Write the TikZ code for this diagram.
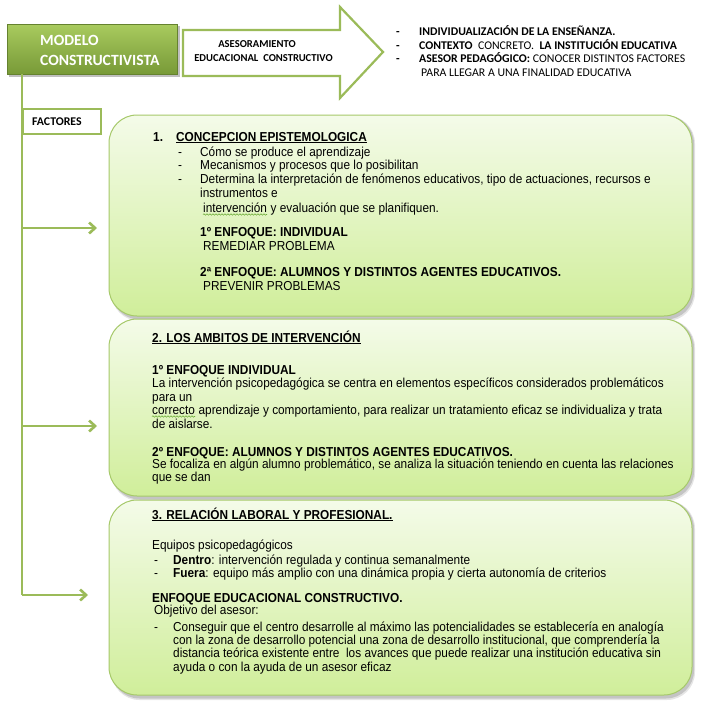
\documentclass[tikz,border=0pt]{standalone}
\usepackage{fontspec}
\setmainfont{Liberation Sans}[FakeStretch=0.91]
\newfontfamily\calibrifont{Carlito}
\usetikzlibrary{arrows.meta,decorations.pathmorphing,backgrounds}
\definecolor{olivegreen}{HTML}{9BBB59}
\definecolor{boxborder}{HTML}{A6C96A}
\definecolor{boxtop}{HTML}{F4FBE9}
\definecolor{boxbottom}{HTML}{D0EE9A}
\definecolor{modeltop}{HTML}{A9CB5E}
\definecolor{modelbottom}{HTML}{779937}
\definecolor{spell}{HTML}{6FAE3A}
\begin{document}
\begin{tikzpicture}[x=1pt,y=-1pt,
  txt/.style={anchor=base west,inner sep=0pt,font=\fontsize{13}{15}\selectfont},
  btxt/.style={txt,font=\bfseries\fontsize{13}{15}\selectfont},
  hdr/.style={anchor=base west,inner sep=0pt,font=\calibrifont\bfseries\fontsize{11.8}{13}\selectfont},
  conn/.style={draw=olivegreen,line width=2.6pt},
  connarrow/.style={conn,-{Straight Barb[length=6pt,width=11pt,line width=2.6pt]}},
  wavy/.style={draw=spell,line width=0.6pt,decorate,decoration={snake,amplitude=0.7pt,segment length=3pt}},
  bigbox/.style={rectangle,rounded corners=28pt,draw=boxborder,line width=1pt,
    top color=boxtop,bottom color=boxbottom,minimum width=583pt},
  shadowbox/.style={fill=black,rounded corners=28pt},
]
\useasboundingbox (0,0) rectangle (720,707);

% main box
\node[rectangle,draw=modelbottom!85!black,line width=0.6pt,top color=modeltop,bottom color=modelbottom,
  minimum width=170pt,minimum height=50pt] (modelo) at (92,49.5) {};
\node[anchor=base west,inner sep=0pt,text=white,font=\calibrifont\bfseries\fontsize{15.6}{17}\selectfont] (m1) at (40,45.5) {MODELO};
\node[anchor=base west,inner sep=0pt,text=white,font=\calibrifont\bfseries\fontsize{15.6}{17}\selectfont] (m2) at (40,65.5) {CONSTRUCTIVISTA};

% big arrow
\draw[draw=olivegreen,line width=2.2pt,fill=white,line join=miter]
  (183,30) -- (340,30) -- (340,7) -- (383,52) -- (340,98) -- (340,76) -- (183,76) -- cycle;
\node[anchor=base,inner sep=0pt,font=\calibrifont\bfseries\fontsize{10.6}{12}\selectfont] (a1) at (257,47.5) {ASESORAMIENTO};
\node[anchor=base,inner sep=0pt,font=\calibrifont\bfseries\fontsize{10.6}{12}\selectfont] (a2) at (263.5,61.5) {EDUCACIONAL\ \ CONSTRUCTIVO};

% top list
\node[hdr] (d1) at (396,35.5) {-};
\node[hdr] (t1) at (419,35.5) {INDIVIDUALIZACIÓN DE LA ENSEÑANZA.};
\node[hdr] (d2) at (396,49) {-};
\node[hdr] (t2) at (419,49) {CONTEXTO\ \ {\mdseries CONCRETO.}\ \ LA INSTITUCIÓN EDUCATIVA};
\node[hdr] (d3) at (396,62.5) {-};
\node[hdr] (t3) at (419,62.5) {ASESOR PEDAGÓGICO: {\mdseries CONOCER DISTINTOS FACTORES}};
\node[hdr,font=\calibrifont\fontsize{11.8}{13}\selectfont] (t4) at (421,76) {PARA LLEGAR A UNA FINALIDAD EDUCATIVA};

% connectors
\coordinate (top) at (22,74);
\coordinate (r1) at (22,228);
\coordinate (r2) at (22,426);
\coordinate (r3) at (22,595);
\coordinate (e1) at (97,228);
\coordinate (e2) at (97,426);
\coordinate (e3) at (88,595);
\draw[conn,line cap=butt] (top) -- (r3);
\draw[connarrow] (r1) -- (e1);
\draw[connarrow] (r2) -- (e2);
\draw[connarrow] (r3) -- (e3);

% factores
\node[rectangle,draw=olivegreen,line width=2pt,fill=white,minimum width=78pt,minimum height=25pt,anchor=north west] (factores) at (22,108) {};
\node[anchor=base west,inner sep=0pt,font=\calibrifont\bfseries\fontsize{11.8}{13}\selectfont] (ft) at (32,125) {FACTORES};

% big boxes
\node[bigbox,minimum height=201pt] (box1) at (400.5,215.5) {};
\node[bigbox,minimum height=177pt] (box2) at (400.5,407.5) {};
\node[bigbox,minimum height=195pt] (box3) at (400.5,597.5) {};

\begin{scope}[on background layer]
  \fill[white] (0,0) rectangle (720,707);
  \foreach \b in {box1,box2,box3}{
    \fill[shadowbox,opacity=0.10] ([xshift=3pt,yshift=-4.5pt]\b.south west) rectangle ([xshift=2.5pt,yshift=-1pt]\b.north east);
    \fill[shadowbox,opacity=0.14] ([xshift=3pt,yshift=-3pt]\b.south west) rectangle ([xshift=1.5pt,yshift=-1pt]\b.north east);
  }
  \fill[black,opacity=0.25] ([xshift=2pt,yshift=-2.5pt]modelo.south west) rectangle ([xshift=2.5pt,yshift=-2pt]modelo.north east);
\end{scope}

% box 1 text
\node[btxt] (b1n) at (153,141) {1.};
\node[btxt] (b1t) at (176,141) {\underline{CONCEPCION EPISTEMOLOGICA}};
\node[txt] (b1d1) at (178,156) {-};
\node[txt] (b1l1) at (200,156) {Cómo se produce el aprendizaje};
\node[txt] (b1d2) at (178,169) {-};
\node[txt] (b1l2) at (200,169) {Mecanismos y procesos que lo posibilitan};
\node[txt] (b1d3) at (178,183) {-};
\node[txt] (b1l3) at (200,183) {Determina la interpretación de fenómenos educativos, tipo de actuaciones, recursos e};
\node[txt] (b1l4) at (200,197) {instrumentos e};
\node[txt] (b1w) at (203,212) {intervención};
\node[txt,anchor=base west] (b1l5) at (b1w.base east) {\ y evaluación que se planifiquen.};
\draw[wavy] ([yshift=-2.5pt]b1w.base west) -- ([yshift=-2.5pt]b1w.base east);
\node[btxt] (b1e1) at (200,236) {1º ENFOQUE: INDIVIDUAL};
\node[txt] (b1r1) at (203,250) {REMEDIAR PROBLEMA};
\node[btxt] (b1e2) at (200,276) {2ª ENFOQUE: ALUMNOS Y DISTINTOS AGENTES EDUCATIVOS.};
\node[txt] (b1r2) at (203,290) {PREVENIR PROBLEMAS};

% box 2 text
\node[btxt] (b2t) at (152,342) {\underline{2. LOS AMBITOS DE INTERVENCIÓN}};
\node[btxt] (b2e1) at (152,374) {1º ENFOQUE INDIVIDUAL};
\node[txt] (b2l1) at (152,387) {La intervención psicopedagógica se centra en elementos específicos considerados problemáticos};
\node[txt] (b2l2) at (152,401) {para un};
\node[txt] (b2w) at (152,414) {correcto};
\node[txt,anchor=base west] (b2l3) at (b2w.base east) {\ aprendizaje y comportamiento, para realizar un tratamiento eficaz se individualiza y trata};
\draw[wavy] ([yshift=-2.5pt]b2w.base west) -- ([yshift=-2.5pt]b2w.base east);
\node[txt] (b2l4) at (152,428) {de aislarse.};
\node[btxt] (b2e2) at (152,456) {2º ENFOQUE: ALUMNOS Y DISTINTOS AGENTES EDUCATIVOS.};
\node[txt] (b2l5) at (152,468) {Se focaliza en algún alumno problemático, se analiza la situación teniendo en cuenta las relaciones};
\node[txt] (b2l6) at (152,481) {que se dan};

% box 3 text
\node[btxt] (b3t) at (152,519) {\underline{3. RELACIÓN LABORAL Y PROFESIONAL.}};
\node[txt] (b3l1) at (152,549) {Equipos psicopedagógicos};
\node[txt] (b3d1) at (154,564) {-};
\node[txt] (b3l2) at (173,564) {\textbf{Dentro}: intervención regulada y continua semanalmente};
\node[txt] (b3d2) at (154,577) {-};
\node[txt] (b3l3) at (173,577) {\textbf{Fuera}: equipo más amplio con una dinámica propia y cierta autonomía de criterios};
\node[btxt] (b3e) at (152,602) {ENFOQUE EDUCACIONAL CONSTRUCTIVO.};
\node[txt] (b3l4) at (154,614) {Objetivo del asesor:};
\node[txt] (b3d3) at (154,631) {-};
\node[txt] (b3l5) at (173,631) {Conseguir que el centro desarrolle al máximo las potencialidades se establecería en analogía};
\node[txt] (b3l6) at (173,644) {con la zona de desarrollo potencial una zona de desarrollo institucional, que comprendería la};
\node[txt] (b3l7) at (173,657) {distancia teórica existente entre\ \ los avances que puede realizar una institución educativa sin};
\node[txt] (b3l8) at (173,671) {ayuda o con la ayuda de un asesor eficaz};
\end{tikzpicture}
\end{document}
